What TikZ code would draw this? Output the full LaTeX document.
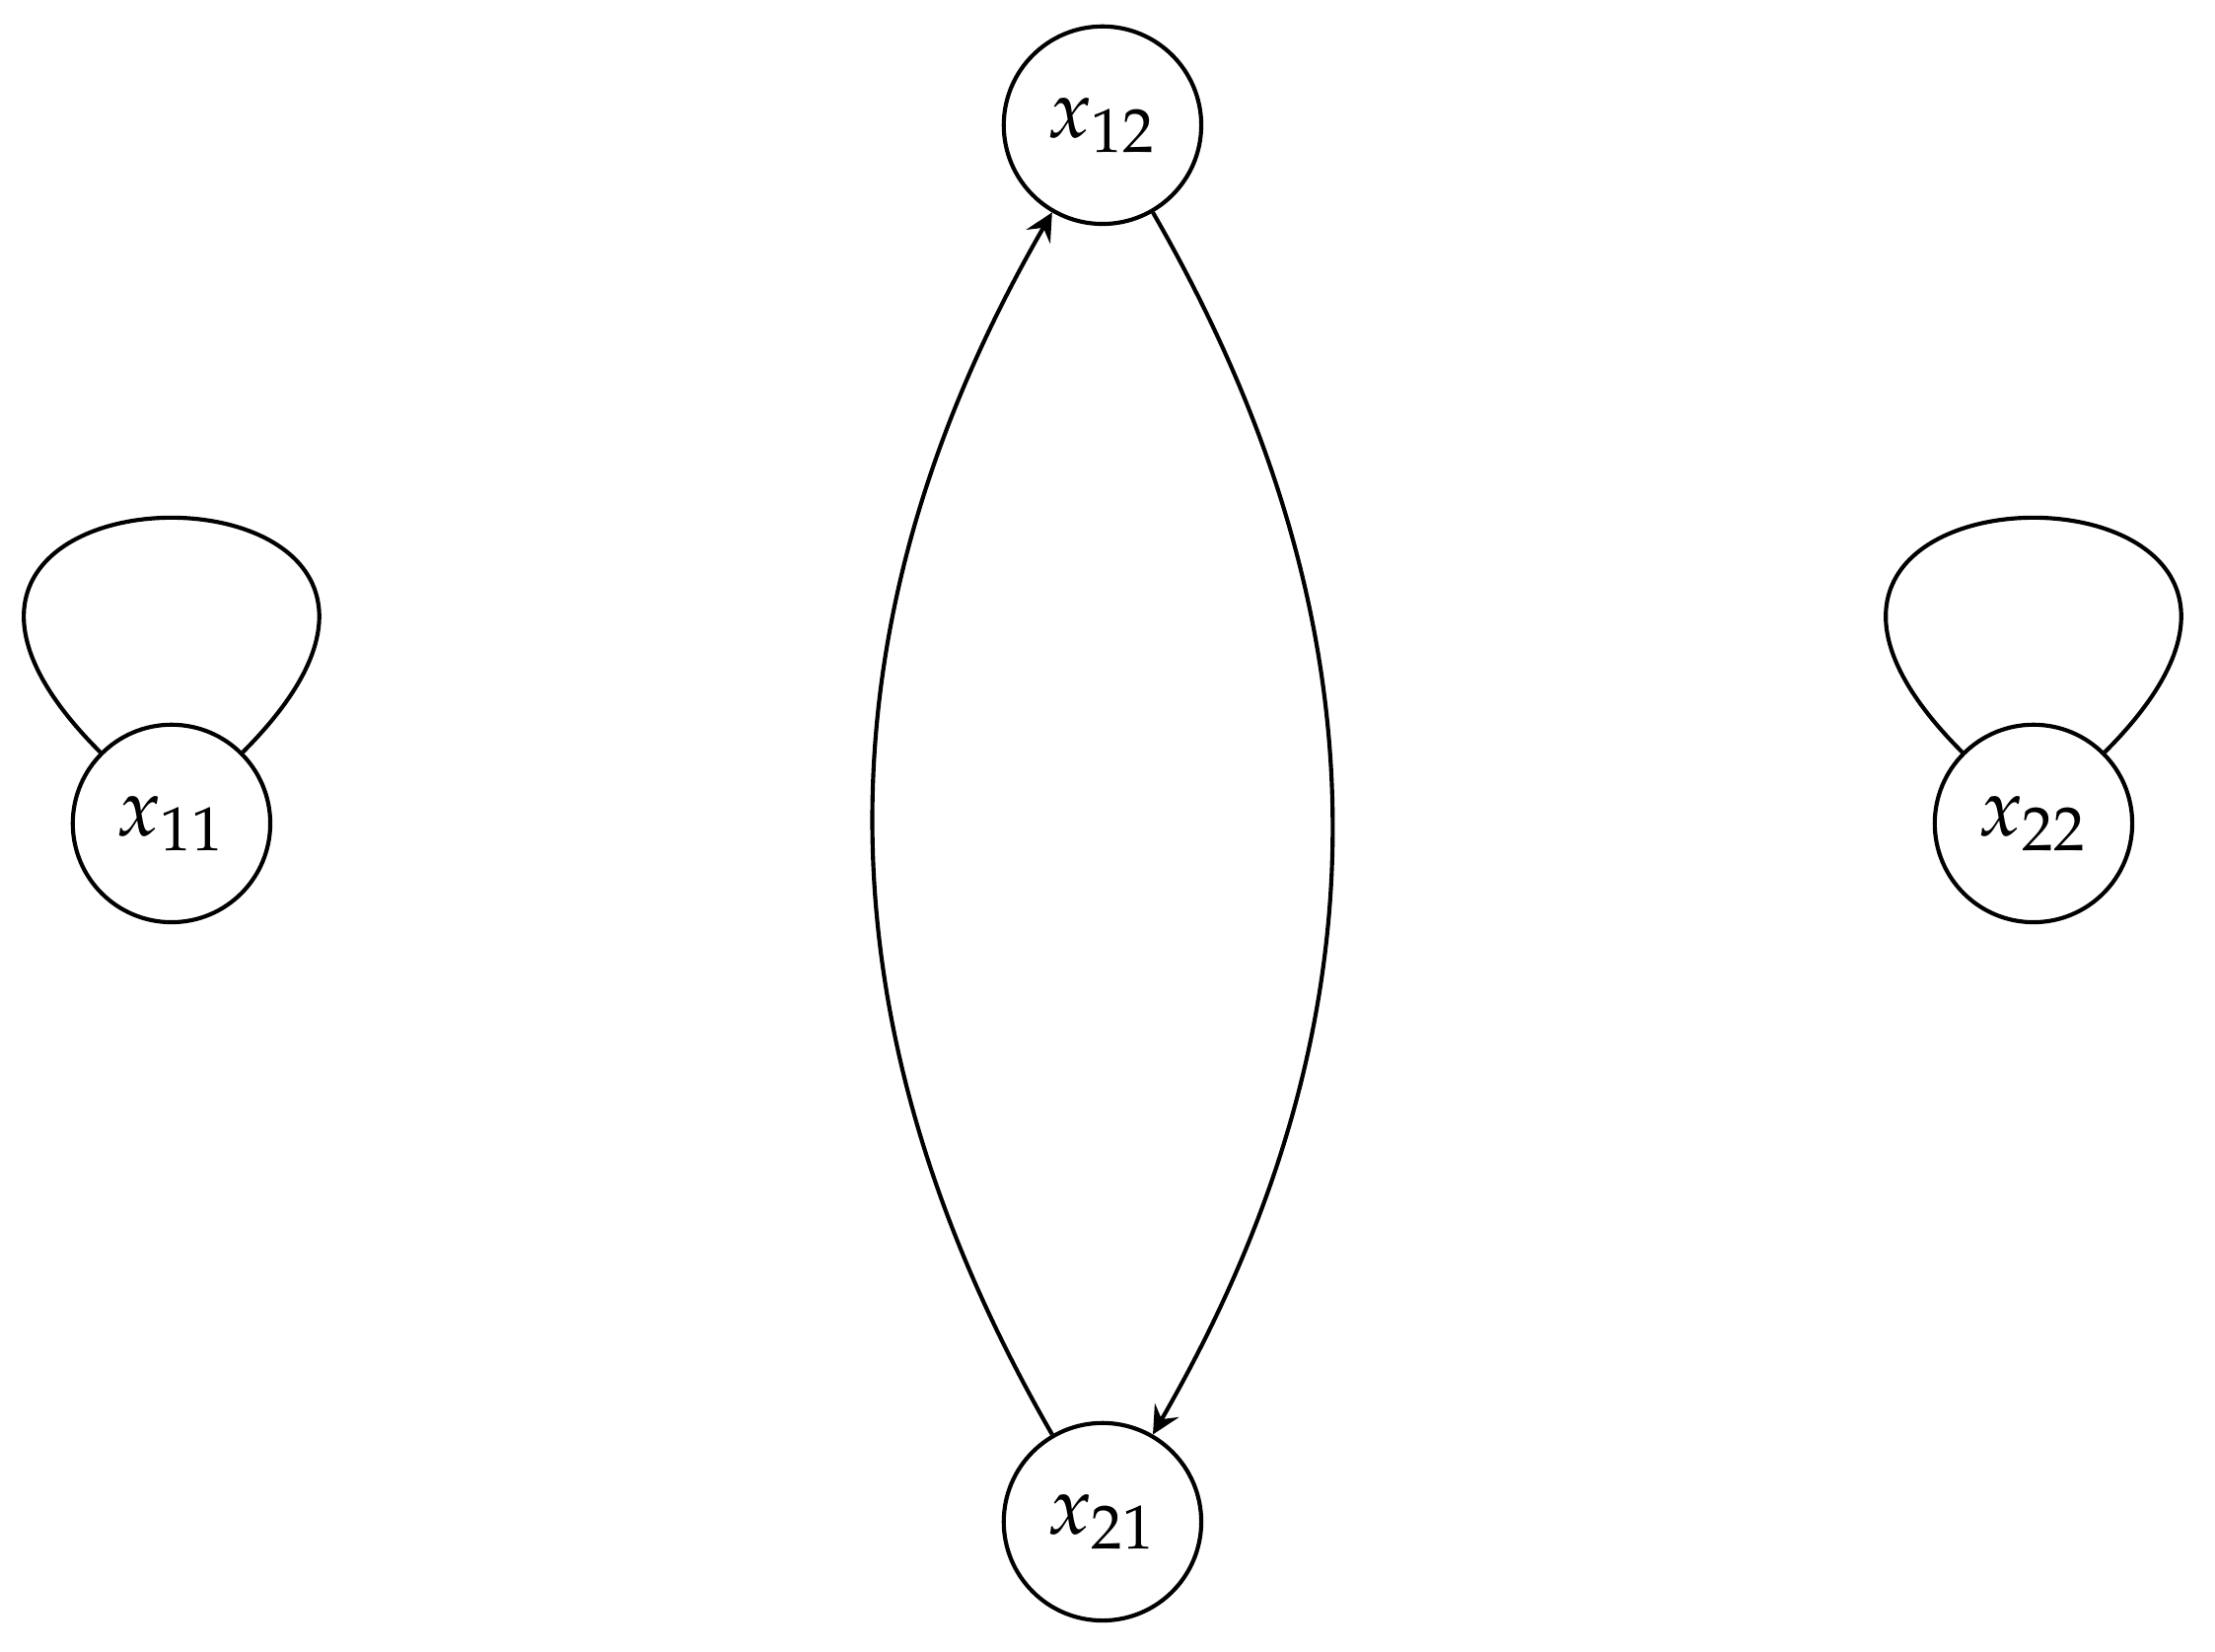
\documentclass[tikz,border=0pt]{standalone}
\usepackage{mathpazo}
\usepackage{tikz}
\usepackage{color}

\begin{document}
\begin{tikzpicture}[%
      line width=0.5pt,
      vertex/.style={circle, draw, inner sep=0.3333em},
      selfloop/.style={out=135, in=45, distance=1.9cm},
      ]
      \useasboundingbox (-0.737,-3.559) rectangle (8.78,3.538);

      \node[vertex] (x11) at (0,0) {$x_{11}$};
      \node[vertex] (x12) at (4,3) {$x_{12}$};
      \node[vertex] (x21) at (4,-3) {$x_{21}$};
      \node[vertex] (x22) at (8,0) {$x_{22}$};

      \path (x11) edge [selfloop] (x11);
      \path (x22) edge [selfloop] (x22);

      \draw [-stealth] (x21) to [bend left] (x12);
      \draw [-stealth] (x12) to [bend left] (x21);
      \end{tikzpicture}
\end{document}
